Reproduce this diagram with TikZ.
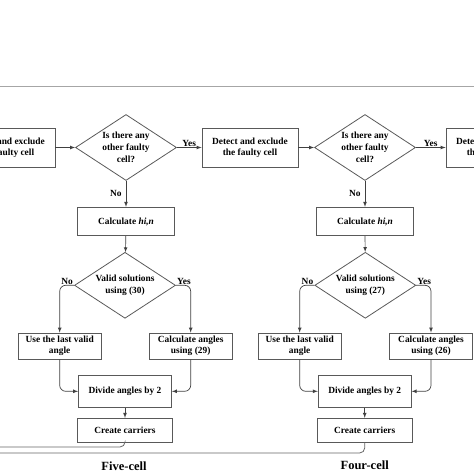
\documentclass[tikz,border=0pt]{standalone}
\usepackage{fontspec}
\setmainfont{Liberation Serif}
\usetikzlibrary{shapes.geometric}

\tikzset{
  stepbox/.style={draw=black!65, line width=0.8pt, rectangle, align=center,
    inner sep=1pt, font=\fontsize{9.4}{11}\selectfont\bfseries},
  decision/.style={draw=black!65, line width=0.8pt, diamond, aspect=1.5,
    inner sep=0pt, minimum width=101pt, minimum height=66pt, align=center,
    font=\fontsize{9.4}{11.7}\selectfont\bfseries},
  flow/.style={->, >=latex, draw=black!75, line width=0.7pt},
  answer/.style={font=\fontsize{9.4}{11}\selectfont\bfseries, inner sep=1pt},
  caption/.style={font=\fontsize{12.5}{14}\selectfont\bfseries, inner sep=0pt}
}

\begin{document}
\begin{tikzpicture}[x=1pt,y=1pt]
    \useasboundingbox (0,0) rectangle (474,474);
    \draw[black!35, line width=1.5pt] (0,387.5) -- (474,387.5);

    % top row
    \node[stepbox, minimum width=96pt, minimum height=39pt] (det1) at (7,326.5) {Detect and exclude\\the faulty cell};
    \node[decision] (dia1) at (126,326.5) {Is there any\\other faulty\\cell?};
    \node[stepbox, minimum width=96pt, minimum height=39pt] (det2) at (250,326.5) {Detect and exclude\\the faulty cell};
    \node[decision] (dia2) at (365,326.5) {Is there any\\other faulty\\cell?};
    \node[stepbox, minimum width=96pt, minimum height=39pt] (det3) at (494,326.5) {Detect and exclude\\the faulty cell};

    % five-cell column
    \node[stepbox, minimum width=97pt, minimum height=28.5pt] (calc1) at (126,252.5) {Calculate \textit{hi,n}};
    \node[decision] (val1) at (125,188.7) {Valid solutions\\using (30)};
    \node[stepbox, minimum width=83pt, minimum height=26pt] (use1) at (59.7,128) {Use the last valid\\angle};
    \node[stepbox, minimum width=83pt, minimum height=26pt] (ang1) at (190.7,128) {Calculate angles\\using (29)};
    \node[stepbox, minimum width=93pt, minimum height=32.7pt] (div1) at (125,82.7) {Divide angles by 2};
    \node[stepbox, minimum width=95pt, minimum height=24pt] (cre1) at (125,43.7) {Create carriers};
    \node[caption] (five) at (124,8) {Five-cell};

    % four-cell column
    \node[stepbox, minimum width=97pt, minimum height=28.5pt] (calc2) at (365,252.5) {Calculate \textit{hi,n}};
    \node[decision] (val2) at (365.3,188.7) {Valid solutions\\using (27)};
    \node[stepbox, minimum width=83pt, minimum height=26pt] (use2) at (299.7,128) {Use the last valid\\angle};
    \node[stepbox, minimum width=83pt, minimum height=26pt] (ang2) at (431,128) {Calculate angles\\using (26)};
    \node[stepbox, minimum width=93pt, minimum height=32.7pt] (div2) at (364.7,82.7) {Divide angles by 2};
    \node[stepbox, minimum width=95pt, minimum height=24pt] (cre2) at (364.7,43.7) {Create carriers};
    \node[caption] (four) at (364.7,9) {Four-cell};

    \coordinate (out1) at (0,27);
    \coordinate (out2) at (0,21);

    % connectors
    \draw[flow] (det1) -- (dia1);
    \draw[flow] (dia1) -- node[answer, above] {Yes} (det2);
    \draw[flow] (det2) -- (dia2);
    \draw[flow] (dia2) -- node[answer, above] {Yes} (det3);
    \draw[flow] (dia1) -- node[answer, left=3pt] {No} (calc1);
    \draw[flow] (dia2) -- node[answer, left=3pt] {No} (calc2);
    \draw[flow] (calc1) -- (val1);
    \draw[flow] (calc2) -- (val2);

    \draw[flow, rounded corners=6pt] (val1.west) -| (use1.north);
    \draw[flow, rounded corners=6pt] (val1.east) -| (ang1.north);
    \draw[flow, rounded corners=6pt] (val2.west) -| (use2.north);
    \draw[flow, rounded corners=6pt] (val2.east) -| (ang2.north);
    \node[answer, above left] at (val1.west) {No};
    \node[answer, above right] at (val1.east) {Yes};
    \node[answer, above left] at (val2.west) {No};
    \node[answer, above right] at (val2.east) {Yes};

    \draw[flow, rounded corners=6pt] (use1.south) |- (div1.west);
    \draw[flow, rounded corners=6pt] (ang1.south) |- (div1.east);
    \draw[flow, rounded corners=6pt] (use2.south) |- (div2.west);
    \draw[flow, rounded corners=6pt] (ang2.south) |- (div2.east);
    \draw[flow] (div1) -- (cre1);
    \draw[flow] (div2) -- (cre2);

    \draw[black!60, line width=0.8pt, rounded corners=5pt] (cre1.south) |- (out1);
    \draw[black!60, line width=0.8pt, rounded corners=5pt] (cre2.south) |- (out2);
\end{tikzpicture}
\end{document}
